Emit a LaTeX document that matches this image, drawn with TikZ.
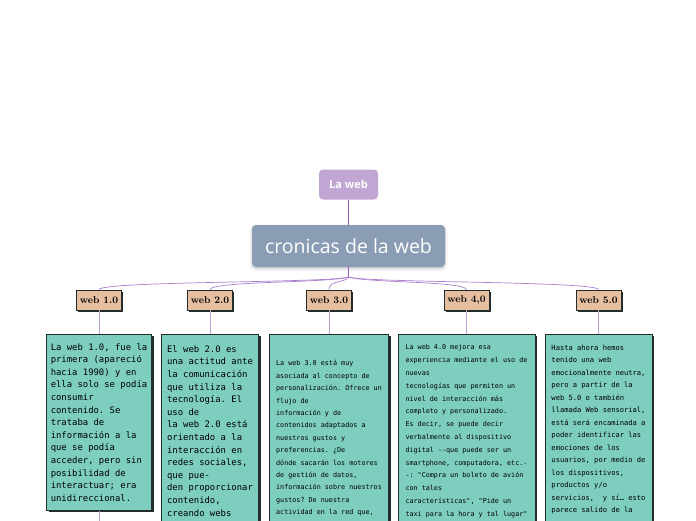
\documentclass[tikz,border=0pt]{standalone}
\usepackage{fontspec}
\setmonofont{DejaVu Sans Mono}
\newfontfamily\titlefont{Open Sans}
\usepackage{tikz}
\usetikzlibrary{shadows, shadows.blur}
\definecolor{webpurple} {RGB}{193, 165, 211}
\definecolor{webslate}  {RGB}{138, 157, 181}
\definecolor{webtan}    {RGB}{230, 190, 160}
\definecolor{webteal}   {RGB}{126, 206, 192}
\definecolor{webdark}   {RGB}{ 35,  45,  45}
\definecolor{weblink}   {RGB}{170, 125, 205}
\definecolor{webtrunk}  {RGB}{150,  90, 185}
\definecolor{webstem}   {RGB}{190, 160, 215}

\begin{document}
\begin{tikzpicture}[x=1pt,y=-1pt,
	topbox/.style={fill=webpurple, rounded corners=4pt, text=white, inner sep=0pt,
		font=\titlefont\bfseries\fontsize{11}{13}\selectfont, minimum width=59pt, minimum height=30pt},
	mainbox/.style={fill=webslate, rounded corners=4pt, text=white, inner sep=0pt,
		font=\titlefont\fontsize{19.5}{22}\selectfont, minimum width=193pt, minimum height=42pt,
		blur shadow={shadow xshift=0pt, shadow yshift=-1.5pt, shadow blur radius=3pt, shadow opacity=25}},
	tagbox/.style={fill=webtan, draw=webdark, line width=0.6pt, inner sep=0pt,
		font=\bfseries\fontsize{10}{12}\selectfont, minimum width=45pt, minimum height=20pt,
		drop shadow={shadow xshift=1.8pt, shadow yshift=-1.8pt, fill=webdark, opacity=1}},
	infobox/.style={fill=webteal, draw=webdark, line width=0.6pt, anchor=north, align=left, inner sep=0pt,
		drop shadow={shadow xshift=2pt, shadow yshift=-2pt, fill=webdark, opacity=1}},
	link/.style={weblink, line width=0.7pt},
	stem/.style={webstem, line width=0.8pt}
]
	\useasboundingbox (0,0) rectangle (696,520);
	\clip (0,0) rectangle (696,520);

	\node[topbox] (laweb) at (348.5,184.5) {La web};
	\node[mainbox] (cron) at (348.5,246) {cronicas de la web};
	\coordinate (fork) at (348.5,277);

	\node[tagbox] (w1) at (99,300) {web 1.0};
	\node[tagbox] (w2) at (210,300) {web 2.0};
	\node[tagbox] (w3) at (329,300) {web 3.0};
	\node[tagbox] (w4) at (466.5,300) {web 4,0};
	\node[tagbox] (w5) at (598.5,300) {web 5.0};

	\node[infobox, minimum width=105pt, minimum height=176pt,
		font=\ttfamily\fontsize{8.9}{12.6}\selectfont] (b1) at (99,334) {%
		La web 1.0, fue la\\ primera (apareció\\ hacia 1990) y en\\ ella solo se podía\\ consumir\\
		contenido. Se\\ trataba de\\ información a la\\ que se podía\\ acceder, pero sin\\
		posibilidad de\\ interactuar; era\\ unidireccional.};
	\node[infobox, minimum width=97pt, minimum height=193pt,
		font=\ttfamily\fontsize{8.9}{12.6}\selectfont] (b2) at (210,334) {%
		El web 2.0 es\\ una actitud ante\\ la comunicación\\ que utiliza la\\ tecnología. El\\ uso de\\
		la web 2.0 está\\ orientado a la\\ interacción en\\ redes sociales,\\ que pue-\\
		den proporcionar\\ contenido,\\ creando webs};
	\node[infobox, minimum width=119pt, minimum height=208pt,
		font=\ttfamily\fontsize{6.75}{12.4}\selectfont] (b3) at (329,334) {%
		La web 3.0 está muy\\ asociada al concepto de\\ personalización. Ofrece un\\ flujo de\\
		información y de\\ contenidos adaptados a\\ nuestros gustos y\\ preferencias. ¿De\\
		dónde sacarán los motores\\ de gestión de datos,\\ información sobre nuestros\\
		gustos? De nuestra\\ actividad en la red que,};
	\node[infobox, minimum width=137pt, minimum height=194pt,
		font=\ttfamily\fontsize{6.75}{12.8}\selectfont] (b4) at (466.5,334) {%
		La web 4.0 mejora esa\\ experiencia mediante el uso de\\ nuevas\\ tecnologías que permiten un\\
		nivel de interacción más\\ completo y personalizado.\\ Es decir, se puede decir\\
		verbalmente al dispositivo\\ digital --que puede ser un\\ smartphone, computadora, etc.-\\
		-: "Compra un boleto de avión\\ con tales\\ características", "Pide un\\
		taxi para la hora y tal lugar"};
	\node[infobox, minimum width=107pt, minimum height=190pt,
		font=\ttfamily\fontsize{7.1}{12.5}\selectfont] (b5) at (598.5,334) {%
		Hasta ahora hemos\\ tenido una web\\ emocionalmente neutra,\\ pero a partir de la\\
		web 5.0 o también\\ llamada Web sensorial,\\ está será encaminada a\\ poder identificar las\\
		emociones de los\\ usuarios, por medio de\\ los dispositivos,\\ productos y/o\\
		servicios,~ y sí… esto\\ parece salido de la};
	\coordinate (b1tail) at (99,540);

	\draw[webtrunk, line width=0.8pt] (laweb) -- (cron);
	\draw[webtrunk, line width=0.8pt] (cron) -- (fork);
	\draw[link] (fork) .. controls (330,283) and (99,281) .. (w1.north);
	\draw[link] (fork) .. controls (330,283) and (210,281) .. (w2.north);
	\draw[link] (fork) .. controls (345,283) and (329,280) .. (w3.north);
	\draw[link] (fork) .. controls (367,283) and (466.5,281) .. (w4.north);
	\draw[link] (fork) .. controls (367,283) and (598.5,281) .. (w5.north);
	\draw[stem] (w1) -- (b1);
	\draw[stem] (w2) -- (b2);
	\draw[stem] (w3) -- (b3);
	\draw[stem] (w4) -- (b4);
	\draw[stem] (w5) -- (b5);
	\draw[stem] (b1) -- (b1tail);
\end{tikzpicture}
\end{document}
